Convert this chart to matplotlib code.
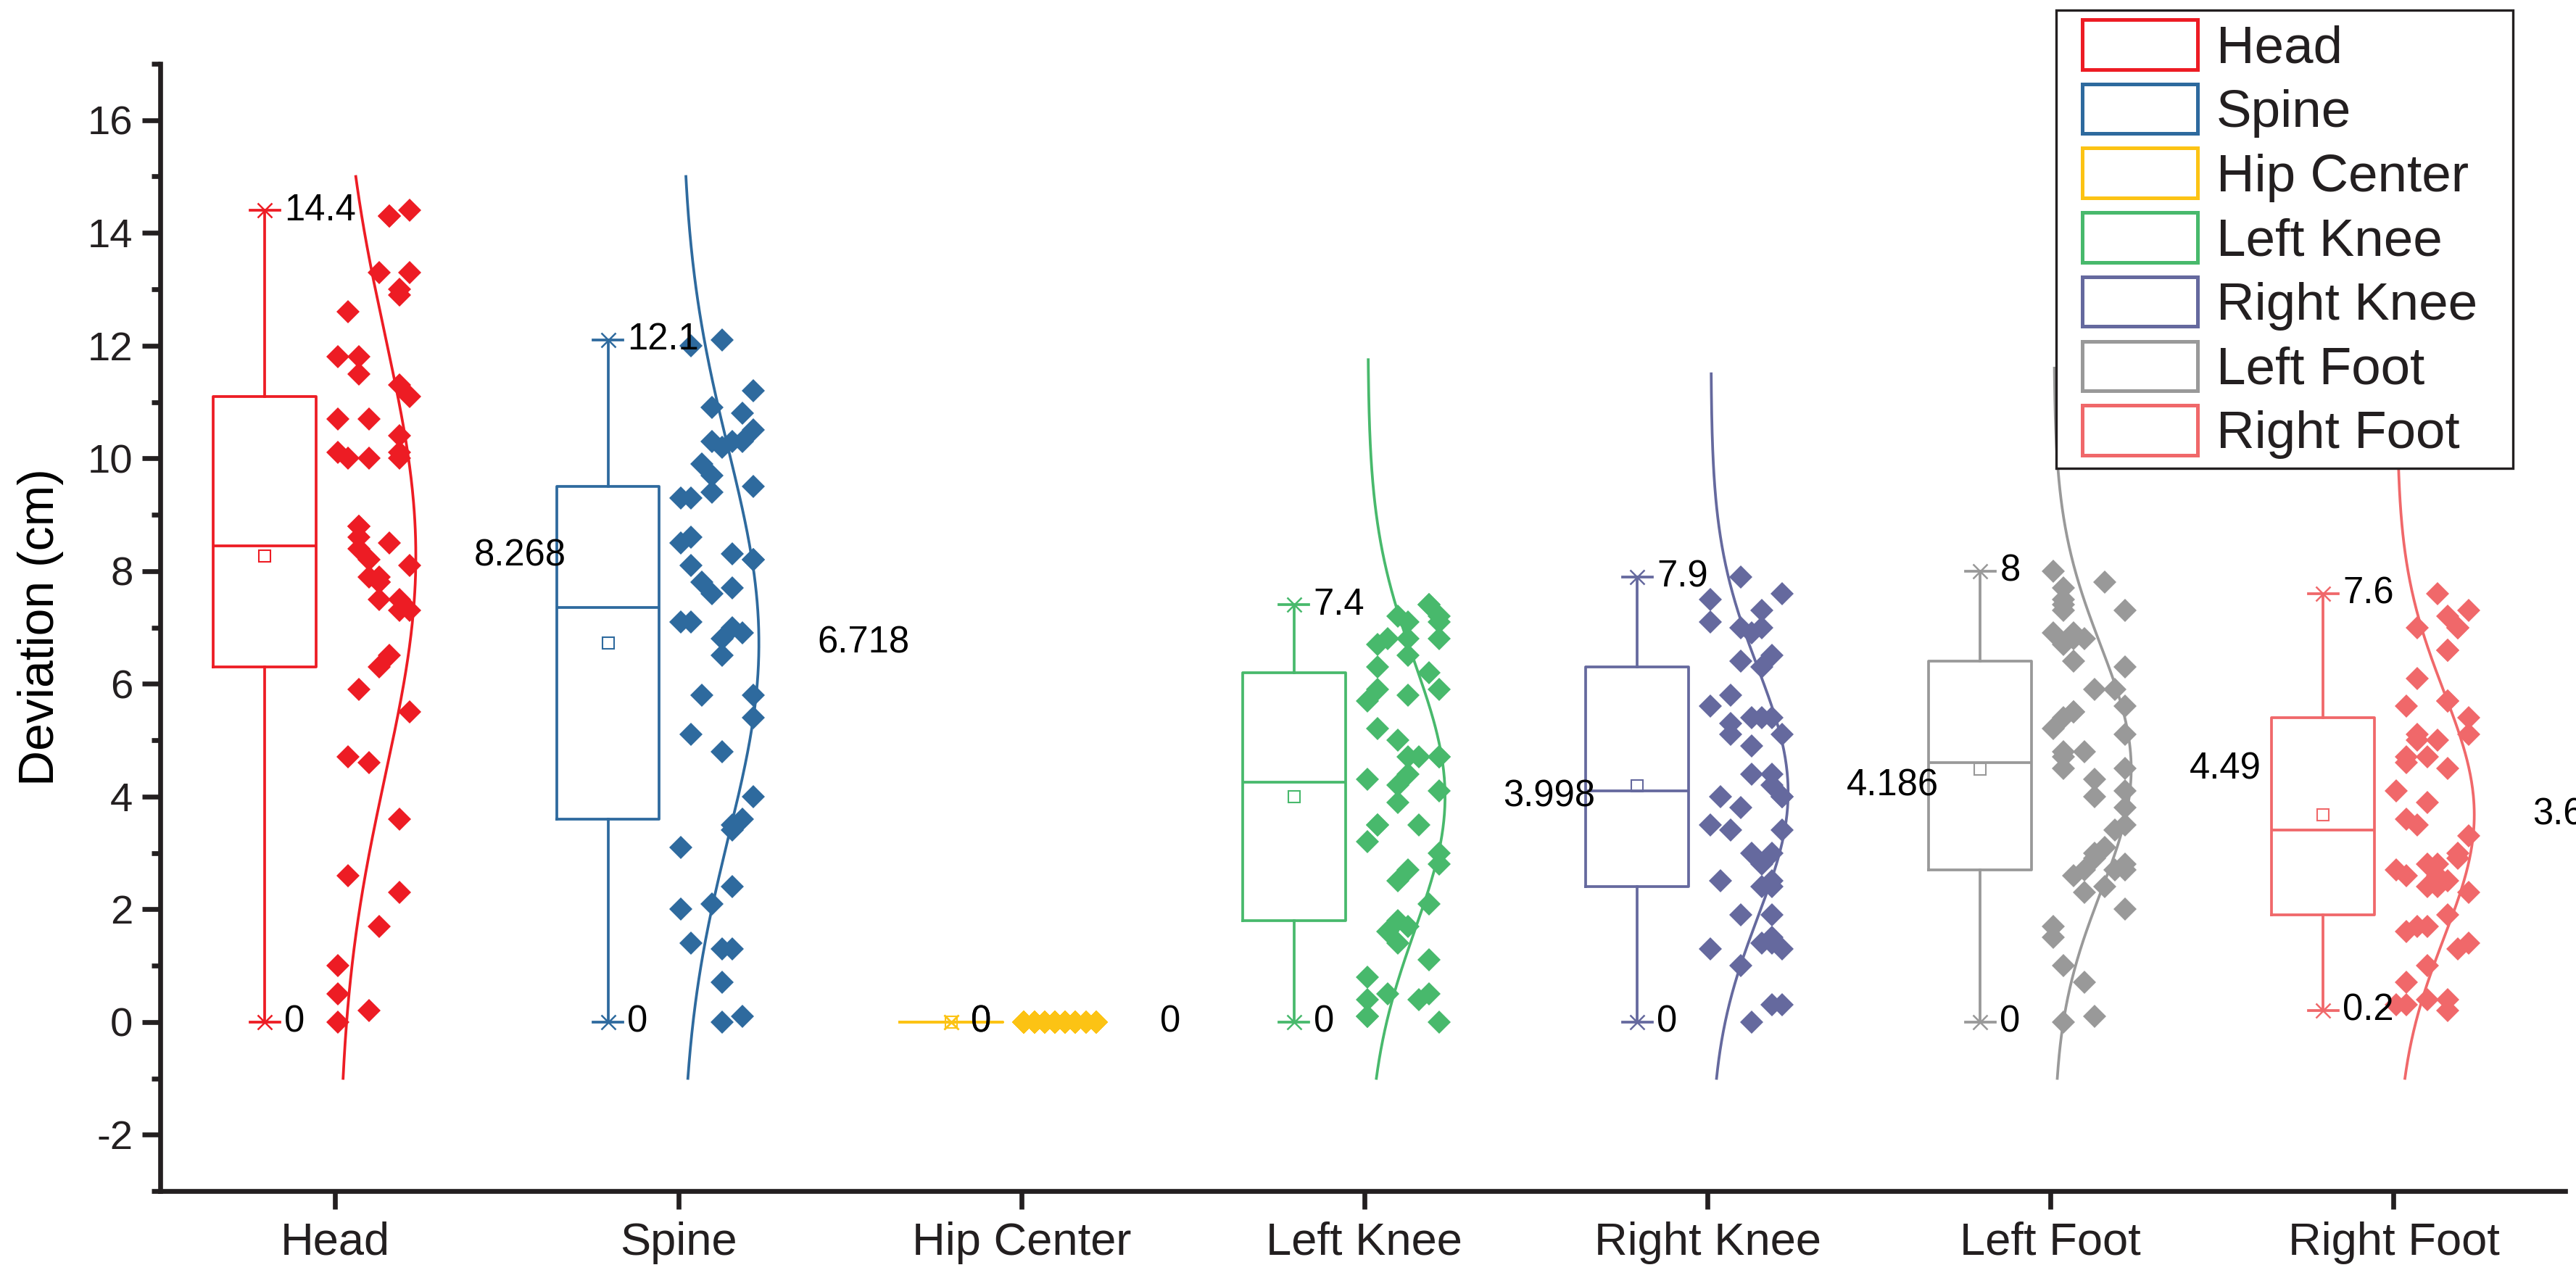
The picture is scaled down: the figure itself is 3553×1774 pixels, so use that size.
import numpy as np
import matplotlib
matplotlib.use('Agg')
import matplotlib.pyplot as plt
from matplotlib.patches import Patch, Rectangle
from matplotlib.ticker import MultipleLocator

plt.rcParams['font.family'] = ['Liberation Sans', 'DejaVu Sans']
plt.rcParams['axes.unicode_minus'] = False

groups = ['Head', 'Spine', 'Hip Center', 'Left Knee', 'Right Knee', 'Left Foot', 'Right Foot']
colors = ['#ed1c24', '#2e6a9e', '#fcc314', '#48b96c', '#65699e', '#999999', '#f0686a']

head = [14.4, 14.3, 14.3, 13.3, 13.3, 13.0, 12.9, 12.6, 11.8, 11.8, 11.5, 11.3, 11.1,
        10.7, 10.7, 10.4, 10.0, 10.1, 10.1, 10.0, 10.0, 8.8, 8.8, 8.6, 8.5, 8.4, 8.1,
        8.2, 7.9, 7.8, 7.9, 7.8, 7.5, 7.3, 7.5, 7.3, 6.5, 6.3, 5.9, 5.5, 4.6, 4.7, 3.6,
        2.6, 2.3, 1.7, 1.0, 0.5, 0.2, 0.0]
spine = [12.0, 12.1, 11.2, 10.9, 10.8, 10.5, 10.3, 10.3, 10.3, 10.2, 9.9, 9.7, 9.4,
         9.3, 9.5, 9.3, 8.5, 8.6, 8.2, 8.3, 8.2, 8.1, 7.7, 7.8, 7.6, 7.1, 6.8, 6.9, 7.0,
         7.1, 6.5, 5.8, 5.8, 5.4, 5.1, 4.8, 4.0, 3.6, 3.5, 3.4, 3.1, 2.4, 2.1, 2.0, 1.4,
         1.3, 1.3, 0.7, 0.0, 0.1]
hip_center = [0.0] * 50
left_knee = [7.4, 7.4, 7.2, 7.1, 7.1, 7.2, 6.8, 6.8, 6.8, 6.7, 6.5, 6.3, 6.2, 5.9, 5.9,
             5.8, 5.7, 5.2, 5.0, 4.7, 4.7, 4.7, 4.7, 4.4, 4.3, 4.2, 4.1, 3.9, 3.5, 3.5,
             3.5, 3.2, 3.0, 2.8, 2.7, 2.5, 2.1, 1.7, 1.8, 1.6, 1.4, 1.1, 0.8, 0.4, 0.4,
             0.5, 0.5, 0.1, 0.0, 0.1]
right_knee = [7.9, 7.6, 7.5, 7.3, 7.0, 7.0, 7.1, 6.9, 6.4, 6.5, 6.3, 5.8, 5.6, 5.4, 5.3,
              5.4, 5.4, 5.1, 5.1, 4.9, 4.4, 4.4, 4.2, 4.0, 4.0, 4.0, 3.8, 3.4, 3.4, 3.5,
              3.0, 3.0, 2.8, 2.4, 2.4, 2.5, 2.5, 1.9, 1.9, 1.5, 1.3, 1.3, 1.4, 1.4, 1.0,
              0.3, 0.3, 0.0]
left_foot = [8.0, 7.8, 7.7, 7.5, 7.4, 7.3, 7.3, 6.8, 6.9, 6.7, 6.8, 6.9, 6.4, 6.3, 5.9,
             5.9, 5.6, 5.5, 5.4, 5.5, 5.2, 5.1, 4.8, 4.8, 4.7, 4.5, 4.5, 4.3, 4.1, 4.0,
             3.8, 3.5, 3.4, 3.1, 3.0, 2.9, 2.7, 2.7, 2.8, 2.7, 2.6, 2.3, 2.4, 2.0, 1.7,
             1.5, 1.0, 0.7, 0.0, 0.1]
right_foot = [7.6, 7.3, 7.2, 7.0, 7.0, 7.0, 6.6, 6.6, 6.1, 5.7, 5.6, 5.7, 5.4, 5.1, 5.1,
              5.0, 5.0, 4.7, 4.5, 4.7, 4.6, 4.1, 3.9, 3.6, 3.5, 3.3, 3.0, 2.9, 2.8, 2.7,
              2.5, 2.4, 2.3, 2.4, 2.6, 2.6, 2.8, 1.9, 1.7, 1.7, 1.6, 1.4, 1.3, 1.0, 0.7,
              0.4, 0.4, 0.2, 0.3, 0.3]
all_data = [head, spine, hip_center, left_knee, right_knee, left_foot, right_foot]

# box statistics as shown on the chart
q1 = [6.3, 3.6, 0, 1.8, 2.4, 2.7, 1.9]
medians = [8.45, 7.35, 0, 4.25, 4.1, 4.6, 3.4]
q3 = [11.1, 9.5, 0, 6.2, 6.3, 6.4, 5.4]
whis_lo = [0, 0, 0, 0, 0, 0, 0.2]
whis_hi = [14.4, 12.1, 0, 7.4, 7.9, 8, 7.6]
means = [8.268, 6.718, 0, 3.998, 4.186, 4.49, 3.676]
curve_top = [15.0, 15.0, None, 11.75, 11.5, 11.6, 11.5]

ink = '#231f20'
fig = plt.figure(figsize=(3553 / 300, 1774 / 300), dpi=300)
ax = fig.add_axes([0.0622, 0.0738, 0.9336, 0.8766])

positions = np.arange(1, len(groups) + 1)
box_shift = -0.205
rng = np.random.default_rng(7)

for i, (name, vals, c) in enumerate(zip(groups, all_data, colors)):
    pos = positions[i]
    bx = pos + box_shift
    stats = [dict(med=medians[i], q1=q1[i], q3=q3[i], whislo=whis_lo[i],
                  whishi=whis_hi[i], mean=means[i], fliers=[])]
    ax.bxp(stats, positions=[bx], widths=0.30, showmeans=True, showfliers=False,
           capwidths=0.087,
           boxprops=dict(color=c, linewidth=0.9),
           whiskerprops=dict(color=c, linewidth=0.9),
           capprops=dict(color=c, linewidth=0.9),
           medianprops=dict(color=c, linewidth=0.9),
           meanprops=dict(marker='s', markersize=3.8, markerfacecolor='none',
                          markeredgecolor=c, markeredgewidth=0.5),
           manage_ticks=False, zorder=2)
    ax.plot([bx, bx], [whis_lo[i], whis_hi[i]], linestyle='none', marker='x',
            markersize=4.8, markeredgewidth=0.6, color=c, zorder=3)

    # jittered points
    cols = rng.integers(0, 8, len(vals))
    ax.plot(pos + 0.008 + 0.03 * cols, vals, linestyle='none', marker='D',
            markersize=5.6, markerfacecolor=c, markeredgewidth=0, zorder=3)

    # normal curve
    arr = np.asarray(vals)
    sd = arr.std(ddof=1)
    if curve_top[i] is not None and sd > 0:
        yy = np.linspace(-1, curve_top[i], 300)
        xx = pos + 0.01 + 0.225 * np.exp(-0.5 * ((yy - arr.mean()) / sd) ** 2)
        ax.plot(xx, yy, color=c, linewidth=0.9, zorder=4)

    # labels
    ax.text(bx + 0.057, whis_hi[i], f'{whis_hi[i]:g}', ha='left', va='center',
            fontsize=12.2, color='black', zorder=5)
    ax.text(bx + 0.057, whis_lo[i], f'{whis_lo[i]:g}', ha='left', va='center',
            fontsize=12.2, color='black', zorder=5)
    ax.text(pos + 0.405, means[i], f'{means[i]:g}', ha='left', va='center',
            fontsize=12.2, color='black', zorder=5)

ax.set_xlim(0.49, 7.5)
ax.set_ylim(-3, 17)
ax.set_xticks(positions)
ax.set_xticklabels(groups)
ax.yaxis.set_major_locator(MultipleLocator(2))
ax.yaxis.set_minor_locator(MultipleLocator(1))
ax.set_ylabel('Deviation (cm)', fontsize=16.3, color='black', labelpad=8)

for side in ['top', 'right']:
    ax.spines[side].set_visible(False)
for side in ['left', 'bottom']:
    ax.spines[side].set_linewidth(1.6)
    ax.spines[side].set_color(ink)
ax.tick_params(axis='y', which='major', direction='out', length=6, width=1.6,
               labelsize=13.5, colors=ink, labelcolor=ink, pad=3)
ax.tick_params(axis='y', which='minor', direction='out', length=3, width=1.6, colors=ink)
ax.tick_params(axis='x', which='major', direction='out', length=6, width=1.6,
               labelsize=15.2, colors=ink, labelcolor=ink, pad=4)

# legend frame drawn separately so the inner padding can match
frame = Rectangle((0.7982, 0.6358), 0.1773, 0.3563, transform=fig.transFigure,
                  facecolor='white', edgecolor=ink, linewidth=0.8, zorder=4)
fig.patches.append(frame)

handles = [Patch(facecolor='white', edgecolor=c, linewidth=1.2, label=g)
           for g, c in zip(groups, colors)]
leg = fig.legend(handles=handles, loc='upper left',
                 bbox_to_anchor=(0.8083, 0.9848),
                 bbox_transform=fig.transFigure, frameon=False,
                 fontsize=17.5, handlelength=2.18, handleheight=1.07,
                 labelspacing=0.2, handletextpad=0.36, borderpad=0,
                 borderaxespad=0)
leg.set_zorder(5)
for t in leg.get_texts():
    t.set_color(ink)

fig.savefig('out.png', dpi=300)
plt.close(fig)
